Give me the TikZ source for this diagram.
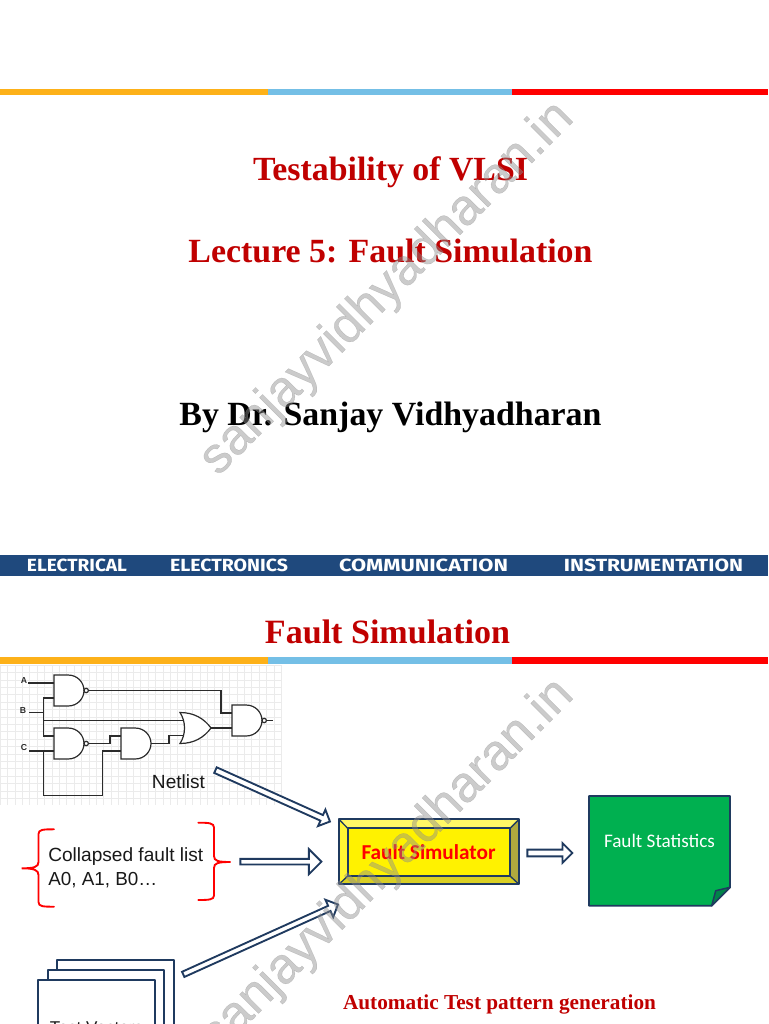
\documentclass[tikz,border=0pt]{standalone}
\usepackage{graphicx}
\usepackage{fontspec}
\usetikzlibrary{shapes.arrows}
\newfontfamily\serifbf{Liberation Serif}
\newfontfamily\arialf{Liberation Sans}
\newfontfamily\carl{Carlito}
\newfontfamily\wmf[FakeBold=0.5]{Liberation Sans}
\newfontfamily\bandf{Fira Sans}
\newcommand{\fitw}[2]{\resizebox{\dimexpr #1pt*3/4\relax}{!}{#2}}
\newcommand{\fitwh}[3]{\resizebox{\dimexpr #1pt*3/4\relax}{\dimexpr #2pt*3/4\relax}{#3}}
\definecolor{navy}{HTML}{1F3A5F}
\definecolor{dred}{HTML}{C00000}
\definecolor{barO}{HTML}{FDB119}
\definecolor{barB}{HTML}{74BFE6}
\definecolor{bandc}{HTML}{1F497D}
\definecolor{wire}{HTML}{2B2B2B}
\definecolor{noteg}{HTML}{00B050}
\definecolor{foldg}{HTML}{008448}
\tikzset{
  txt/.style={inner sep=0pt,outer sep=0pt,anchor=base},
  wm/.style={inner sep=0pt,anchor=base west,rotate=45,text=black!45,text opacity=.45},
  conn/.style={draw=wire,line width=.9pt},
  gatefill/.style={draw=wire,line width=.9pt,fill=white},
  pinlabel/.style={inner sep=0pt,font=\arialf\bfseries\fontsize{6.5}{7}\selectfont,text=wire},
  blockarrow/.style n args={3}{shape=single arrow,draw=navy,fill=white,line width=1.4pt,inner sep=0pt,
     minimum height=#1*0.75pt,minimum width=#2*0.75pt,single arrow head extend=#3*0.75pt,
     single arrow tip angle=90},
  bevel/.style={draw=navy,line width=1.4pt,line join=round},
  brace/.style={draw=red,line width=1.4pt,line cap=round},
  andgate/.pic={
    \draw[gatefill] (0,0)--(14,0) .. controls (24,0) and (30,8) .. (30,15.5) .. controls (30,23) and (24,31) .. (14,31) -- (0,31) -- cycle;
    \coordinate (-a) at (0,8); \coordinate (-b) at (0,23); \coordinate (-o) at (30,15.5);},
  nandgate/.pic={
    \draw[gatefill] (0,0)--(14,0) .. controls (24,0) and (30,8) .. (30,15.5) .. controls (30,23) and (24,31) .. (14,31) -- (0,31) -- cycle;
    \draw[gatefill] (32.2,15.5) circle[radius=2.2];
    \coordinate (-a) at (0,8); \coordinate (-b) at (0,23); \coordinate (-o) at (34.4,15.5);},
  orgate/.pic={
    \draw[gatefill] (0,0) .. controls (14,0) and (24,6) .. (31,15.5) .. controls (24,25) and (14,31) .. (0,31) .. controls (6,22) and (6,9) .. (0,0) -- cycle;
    \coordinate (-a) at (4,8); \coordinate (-b) at (4,23); \coordinate (-o) at (31,15.5);},
}
\begin{document}
\begin{tikzpicture}[x=0.75pt,y=-0.75pt]
\useasboundingbox (0,0) rectangle (768,1024);
\clip (0,0) rectangle (768,1024);
\fill[white] (0,0) rectangle (768,1024);
% colour bars
\fill[barO] (0,89.5) rectangle (268,95); \fill[barB] (268,89.5) rectangle (512,95); \fill[red] (512,89.5) rectangle (768,95);
\fill[barO] (0,657) rectangle (268,663.5); \fill[barB] (268,657) rectangle (512,663.5); \fill[red] (512,657) rectangle (768,663.5);
% first slide
\node[txt,text=dred] (t1) at (390.5,180) {\fitw{275}{\serifbf\bfseries Testability of VLSI}};
\node[txt,text=dred] (t2) at (390.5,262) {\fitw{404}{\serifbf\bfseries Lecture 5: Fault Simulation}};
\node[txt,text=black] (t3) at (390.5,425) {\fitw{422}{\serifbf\bfseries By Dr. Sanjay Vidhyadharan}};
% band
\fill[bandc] (0,555) rectangle (768,576);
\node[txt,text=white] (b1) at (77,571.5) {\fitwh{100}{12.5}{\bandf\bfseries ELECTRICAL}};
\node[txt,text=white] (b2) at (229,571.5) {\fitwh{118}{12.5}{\bandf\bfseries ELECTRONICS}};
\node[txt,text=white] (b3) at (423.5,571.5) {\fitwh{169}{12.5}{\bandf\bfseries COMMUNICATION}};
\node[txt,text=white] (b4) at (653.5,571.5) {\fitwh{179}{12.5}{\bandf\bfseries INSTRUMENTATION}};
% second slide title
\node[txt,text=dred] (t4) at (387.5,643) {\fitw{245}{\serifbf\bfseries Fault Simulation}};
% grid behind the schematic
\foreach \gx in {0,7.4,...,282} {\draw[black!8,line width=.3pt] (\gx,665) -- (\gx,805);}
\foreach \gy in {665,672.4,...,805} {\draw[black!8,line width=.3pt] (0,\gy) -- (282,\gy);}
% gates
\pic (n1) at (54,675) {nandgate};
\pic (n2) at (54,728) {nandgate};
\pic (a3) at (121,728) {andgate};
\pic (or) at (180,712.5) {orgate};
\pic (n4) at (232,705) {nandgate};
% pins
\node[pinlabel] (A) at (24,681) {A};
\node[pinlabel] (B) at (23,711) {B};
\node[pinlabel] (C) at (24,748) {C};
\coordinate (Aw) at (28,683);
\coordinate (Bw) at (29,712.7);
\coordinate (Cw) at (29,751);
\coordinate (bus) at (43.3,712.7);
\coordinate (cj) at (43.3,751);
\coordinate (cbot) at (102.3,795.7);
\coordinate (out) at (273,720.5);
\draw[conn] (Aw) -- (n1-a);
\draw[conn] (Bw) -- (bus);
\draw[conn] (Cw) -- (n2-b);
\draw[conn] (n1-b) -| (bus) |- (n2-a);
\draw[conn] (bus |- or-a) -- (or-a);
\draw[conn] (cj) |- (cbot) |- (a3-b);
\draw[conn] (n2-o) -- (110,743.5) |- (a3-a);
\draw[conn] (a3-o) -- (169,743.5) |- (or-b);
\draw[conn] (or-o) -- (n4-b);
\draw[conn] (n1-o) -| (221,713) -- (n4-a);
\draw[conn] (n4-o) -- (out);
% texts left
\node[txt,text=black!90] (net) at (178.5,788.5) {\fitw{53}{\arialf Netlist}};
\node[inner sep=0pt,anchor=base west,text=black!90] (cf1) at (48,861.5) {\fitw{155}{\arialf Collapsed fault list}};
\node[inner sep=0pt,anchor=base west,text=black!90] (cf2) at (48,885) {\fitw{109}{\arialf A0, A1, B0…}};
% braces
\draw[brace] (54,829.3) .. controls (43,829.3) and (38.5,829.5) .. (38.5,834) -- (38.5,862) .. controls (38.5,867) and (34,868.3) .. (21.7,868.3) .. controls (34,868.3) and (38.5,870) .. (38.5,875) -- (38.5,902) .. controls (38.5,906.5) and (43,906.7) .. (54,906.7);
\draw[brace] (198.3,822.7) .. controls (209,822.7) and (214,823) .. (214,827.5) -- (214,856) .. controls (214,861) and (218,862) .. (230.7,862) .. controls (218,862) and (214,863) .. (214,868) -- (214,895.5) .. controls (214,899.7) and (209,900) .. (198.3,900);
% block arrows
\node[blockarrow={125.5}{18}{1.8},rotate=-24.2] (ar1) at (271.3,795.2) {};
\node[blockarrow={81}{25}{3.2}] (ar2) at (279.5,861.7) {};
\node[blockarrow={169.8}{19}{2.2},rotate=24.3] (ar3) at (259.3,940) {};
\node[blockarrow={45}{19.7}{1.8}] (ar4) at (548.2,853) {};
% stack of vectors
\draw[bevel,fill=white] (57,1040) |- (174,960) -- (174,1040);
\draw[bevel,fill=white] (47.7,1040) |- (164,970) -- (164,1040);
\draw[bevel,fill=white] (38.3,1040) |- (155,980) -- (155,1040);
\node[txt,text=black!90] (tv) at (96.5,1033) {\fitw{93}{\arialf Test Vectors}};
% Fault Simulator
\fill[yellow] (339,819.3) rectangle (519,884.3);
\fill[yellow!60!white] (339,819.3) -- (519,819.3) -- (510,828.3) -- (347.7,828.3) -- cycle;
\fill[yellow!80!white] (339,819.3) -- (347.7,828.3) -- (347.7,876) -- (339,884.3) -- cycle;
\fill[yellow!65!black] (519,819.3) -- (510,828.3) -- (510,876) -- (519,884.3) -- cycle;
\fill[yellow!83!black] (339,884.3) -- (347.7,876) -- (510,876) -- (519,884.3) -- cycle;
\draw[bevel] (339,819.3) rectangle (519,884.3);
\draw[bevel] (347.7,828.3) rectangle (510,876);
\draw[bevel,line width=1pt] (339,819.3) -- (347.7,828.3) (519,819.3) -- (510,828.3) (339,884.3) -- (347.7,876) (519,884.3) -- (510,876);
\node[txt,text=red] (fs) at (428.5,859) {\fitw{134}{\carl\bfseries Fault Simulator}};
% Fault Statistics
\draw[bevel,fill=noteg] (589,796) -- (730,796) -- (730,887.3) -- (711.7,905.7) -- (589,905.7) -- cycle;
\draw[bevel,line width=1.1pt,fill=foldg] (711.7,905.7) -- (715.7,890.7) -- (730,887.3) -- cycle;
\node[txt,text=white] (fst) at (659.5,847.5) {\fitw{111}{\carl Fault Statistics}};
% caption
\node[txt,text=dred] (atpg) at (499.5,1009) {\fitw{313}{\serifbf\bfseries Automatic Test pattern generation}};
% watermarks
\node[wm] (wm1) at (218,477) {\fitw{505}{\wmf sanjayvidhyadharan.in}};
\node[wm] (wm2) at (218,1054) {\fitw{505}{\wmf sanjayvidhyadharan.in}};
\end{tikzpicture}
\end{document}
